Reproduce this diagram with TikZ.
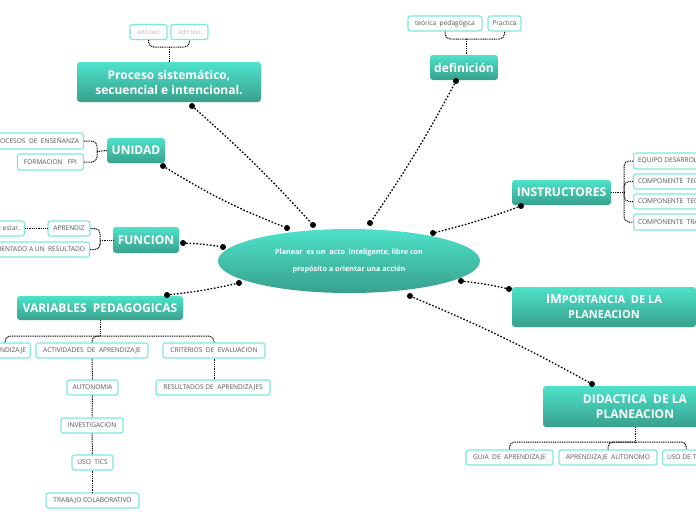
\documentclass[tikz,border=0pt]{standalone}
\usepackage{fontspec}
\setmainfont{Open Sans}
\usetikzlibrary{shapes.geometric}
\definecolor{tealtop}{RGB}{78,226,202}
\definecolor{tealbot}{RGB}{56,160,140}
\definecolor{cbord}{RGB}{125,232,215}
\definecolor{ctext}{RGB}{85,85,85}
\definecolor{cadd}{RGB}{185,185,185}
\begin{document}
\begin{tikzpicture}[x=1pt,y=-1pt,
 main/.style={rounded corners=3pt, top color=tealtop, bottom color=tealbot, draw=none, text=white, font=\bfseries\fontsize{12}{15}\selectfont, align=center, inner sep=0pt},
 leaf/.style={rounded corners=2.5pt, draw=cbord, line width=1.1pt, fill=white, text=ctext, font=\fontsize{6.6}{7}\selectfont, minimum height=15pt, inner ysep=0pt, inner xsep=0pt},
 edge/.style={leaf, inner xsep=4.5pt},
 conn/.style={line width=1.3pt, dash pattern=on 1.6pt off 1.8pt},
 br/.style={line width=1pt, dash pattern=on 1pt off 0.8pt, rounded corners=5pt},
 dot/.style={circle, fill=black, inner sep=0pt, minimum size=6pt}]
\clip (0,0) rectangle (696,520);
\fill[white] (0,0) rectangle (696,520);

% central ellipse
\node[ellipse, top color=tealtop, bottom color=tealbot, draw=none, text=white, minimum width=262pt, minimum height=64pt, inner sep=0pt, align=center, font=\bfseries\fontsize{7.2}{17}\selectfont] (ell) at (349,261) {Planear~~es un~~acto~~inteligente, libre con\\propósito a orientar una acción};

% main boxes
\node[main, minimum width=184pt, minimum height=40pt] (proc) at (169,82) {Proceso sistemático,\\ secuencial e intencional.};
\node[main, minimum width=68pt, minimum height=25pt] (defi) at (464,67.5) {definición};
\node[main, minimum width=58pt, minimum height=25pt] (unidad) at (136,150.5) {UNIDAD};
\node[main, minimum width=66pt, minimum height=26pt] (funcion) at (146,240) {FUNCION};
\node[main, minimum width=166pt, minimum height=24pt] (vars) at (100,308) {VARIABLES~~PEDAGOGICAS};
\node[main, minimum width=99pt, minimum height=25pt] (instr) at (561.5,192.5) {INSTRUCTORES};
\node[main, minimum width=184pt, minimum height=40pt, font=\bfseries\fontsize{11}{15}\selectfont] (impo) at (604,307) {{\fontsize{12.5}{15}\selectfont IM}PORTANCIA~~DE LA\\PLANEACION};
\node[main, minimum width=184pt, minimum height=41pt] (dida) at (635,406.5) {DIDACTICA~~DE LA\\PLANEACION};

% leaves
\node[leaf, minimum width=37pt, text=cadd, font=\fontsize{6}{7}\selectfont] (add1) at (148.5,32) {Add text};
\node[leaf, minimum width=37pt, text=cadd, font=\fontsize{6}{7}\selectfont] (add2) at (189.5,32) {Add text};
\node[leaf, minimum width=74pt] (teo) at (445,23.5) {teórica~~pedagógica};
\node[leaf, minimum width=33pt] (prac) at (504.5,23.5) {Practica};
\node[edge, minimum height=16pt, anchor=east] (pe) at (84,141) {PROCESOS~~DE~~ENSEÑANZA};
\node[leaf, minimum width=66pt, minimum height=16pt, anchor=east] (fpi) at (84,162) {FORMACION~~~FPI};
\node[leaf, minimum width=42pt] (aprendiz) at (69,228.5) {APRENDIZ};
\node[edge, anchor=east] (estar) at (25,228.5) {modo de estar.};
\node[edge, anchor=east] (orient) at (90,249.5) {ORIENTADO A UN~~RESULTADO};
\node[edge, anchor=east] (nd) at (31,350.5) {APRENDIZAJE};
\node[leaf, minimum width=112pt] (act) at (92,350.5) {ACTIVIDADES~~DE~~APRENDIZAJE};
\node[leaf, minimum width=102pt] (crit) at (214,350.5) {CRITERIOS~~DE~~EVALUACION};
\node[leaf, minimum width=51pt] (auto) at (92.5,387.5) {AUTONOMIA};
\node[leaf, minimum width=62pt] (inv) at (92,425.5) {INVESTIGACION};
\node[leaf, minimum width=41pt] (tics) at (92.5,462.5) {USO~~TICS};
\node[leaf, minimum width=93pt] (trab) at (92.5,500.5) {TRABAJO COLABORATIVO};
\node[leaf, minimum width=114pt] (res) at (213,387.5) {RESULTADOS DE~~APRENDIZAJES};
\node[edge, minimum height=16pt, anchor=west] (eq) at (633,161) {EQUIPO DESARROLLADOR};
\node[edge, anchor=west] (c1) at (633,181.5) {COMPONENTE~~TECNICO};
\node[edge, anchor=west] (c2) at (633,201.5) {COMPONENTE~~TEORICO};
\node[edge, minimum height=16pt, anchor=west] (c3) at (633,222) {COMPONENTE~~TRANSVERSAL};
\node[leaf, minimum width=87pt] (guia) at (509.5,457.5) {GUIA~~DE~~APRENDIZAJE};
\node[leaf, minimum width=98pt] (aauto) at (608,457.5) {APRENDIZAJE~~AUTONOMO};
\node[edge, anchor=west] (usode) at (662,457.5) {USO DE TICS};

% dots and main connectors
\node[dot] (p1) at (192,106) {};  \node[dot] (e1) at (313,225) {};
\node[dot] (p2) at (456,81) {};   \node[dot] (e2) at (370,223) {};
\node[dot] (p3) at (163,166) {};  \node[dot] (e3) at (287,228) {};
\node[dot] (p4) at (183,243) {};  \node[dot] (e4) at (223,247) {};
\node[dot] (p5) at (167,295) {};  \node[dot] (e5) at (239,283) {};
\node[dot] (p6) at (521,206) {};  \node[dot] (e6) at (433,233) {};
\node[dot] (p7) at (509,289) {};  \node[dot] (e7) at (461,281) {};
\node[dot] (p8) at (592,384) {};  \node[dot] (e8) at (410,296) {};
\draw[conn] (p1) to[bend left=3] (e1);
\draw[conn] (p2) to[bend left=3] (e2);
\draw[conn] (p3) to[bend right=5] (e3);
\draw[conn] (p4) to[bend left=3] (e4);
\draw[conn] (p5) to[bend right=3] (e5);
\draw[conn] (p6) to[bend left=3] (e6);
\draw[conn] (p7) to[bend right=3] (e7);
\draw[conn] (p8) to[bend right=3] (e8);

% child connectors
\coordinate (jA) at (169,47);
\draw[br] (add1.south) |- (jA) -| (add2.south);
\draw[br] (jA) -- (proc.north);
\coordinate (jD) at (466,39);
\draw[br] (teo.south) |- (jD) -| (prac.south);
\draw[br] (jD) -- (defi.north -| jD);
\coordinate (jU) at (97,151.5);
\draw[br] (pe.east) -| (jU) |- (fpi.east);
\draw[br] (jU) -- (unidad.west);
\coordinate (jF) at (100,240);
\draw[br] (aprendiz.east) -| (jF) |- (orient.east);
\draw[br] (jF) -- (funcion.west);
\draw[br] (estar.east) -- (aprendiz.west);
\coordinate (jV) at (100,336);
\draw[br] (vars.south) -- (jV);
\draw[br] (nd.north) |- (jV) -| (crit.north);
\draw[br] (act.north) |- (jV);
\draw[br] (act.south) -- (auto.north);
\draw[br] (auto.south) -- (inv.north);
\draw[br] (inv.south) -- (tics.north);
\draw[br] (tics.south) -- (trab.north);
\draw[br] (crit.south) -- (res.north -| crit.south);
\coordinate (jI) at (624,192.5);
\draw[br] (instr.east) -- (jI);
\draw[br] (eq.west) -| (jI) |- (c3.west);
\draw[br] (c1.west) -| (jI);
\draw[br] (c2.west) -| (jI);
\coordinate (jDd) at (635,442);
\draw[br] (dida.south) -- (jDd);
\draw[br] (guia.north) |- (jDd) -| (usode.north);
\draw[br] (aauto.north) |- (jDd);
\end{tikzpicture}
\end{document}
